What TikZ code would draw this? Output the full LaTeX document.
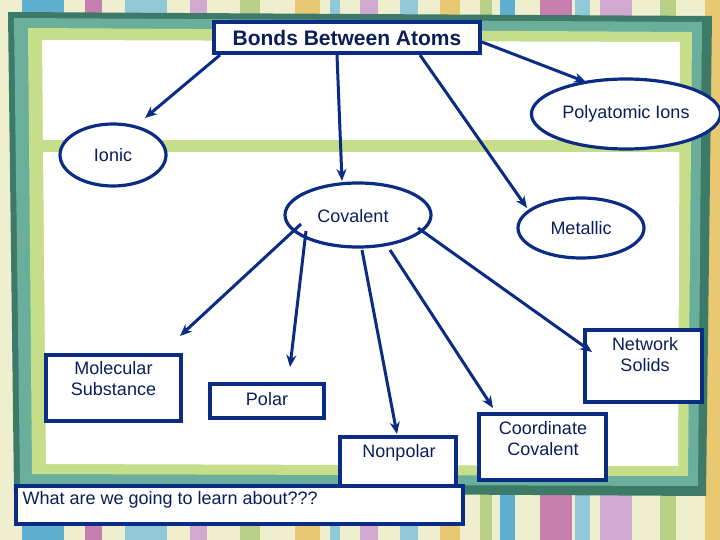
\documentclass[tikz,border=0pt]{standalone}
\usepackage{fontspec}
\setmainfont{Liberation Sans}
\usetikzlibrary{arrows.meta,shapes.geometric}
\definecolor{nav}{HTML}{0B2C84}
\definecolor{txt}{HTML}{0A1E5A}
\definecolor{cream}{HTML}{EFEFCF}
\definecolor{dteal}{HTML}{3E7A68}
\definecolor{teal}{HTML}{6AAE9C}
\definecolor{lgreen}{HTML}{C6DE8A}
\begin{document}
\begin{tikzpicture}[x=1pt,y=-1pt,
  fnt/.style={font=\fontsize{18}{21}\selectfont},
  bx/.style={draw=nav,line width=3.2pt,fill=white,text=txt,fnt},
  el/.style={ellipse,draw=nav,line width=3.2pt,fill=white,text=txt,fnt},
  lab/.style={text=txt,fnt,align=center},
  ar/.style={draw=nav,line width=3pt,-{Stealth[length=12pt,width=10pt]}}]
\useasboundingbox (0,0) rectangle (720,540);
\fill[cream] (0,0) rectangle (720,540);
% stripes
\foreach \x/\w/\c in {22/42/5FB0D0,85/17/C77FB0,125/42/90C8D8,190/17/D0A8D0,240/20/B8D088,295/25/E8C870,330/10/90C8D8,360/18/D0A8D0,400/18/90C8D8,440/20/E8C870,480/12/B8D088,500/15/5FB0D0,540/32/C77FB0,575/15/90C8D8,600/32/D0A8D0,660/16/B8D088,705/15/E8C870}
  {\definecolor{stc}{HTML}{\c}\fill[stc] (\x,0) rectangle ++(\w,540);}
% frame
\fill[dteal] (8,12) -- (712,16) -- (706,496) -- (14,492) -- cycle;
\fill[teal] (14,18) -- (702,22) -- (698,486) -- (20,484) -- cycle;
\fill[lgreen] (28,28) -- (692,32) -- (688,476) -- (32,474) -- cycle;
\fill[white] (42,40) -- (680,42) -- (678,466) -- (46,464) -- cycle;
\fill[lgreen] (42,140) rectangle (680,152);
% nodes
\node[bx,font=\bfseries\fontsize{21}{24}\selectfont,minimum width=266pt,minimum height=31pt,inner sep=0pt] (b) at (347,37.5) {Bonds Between Atoms};
\node[el,minimum width=184pt,minimum height=70pt] (p) at (626,114) {Polyatomic Ions};
\node[el,minimum width=106pt,minimum height=62pt] (i) at (113,155) {Ionic};
\node[el,minimum width=146pt,minimum height=64pt] (c) at (358,215) {};
\node[lab] at (353,216) {Covalent};
\node[el,minimum width=126pt,minimum height=60pt] (m) at (581,228) {Metallic};
\node[bx,minimum width=135pt,minimum height=66pt] (ms) at (113.5,388) {};
\node[lab] at (113.5,379) {Molecular\\Substance};
\node[bx,minimum width=117pt,minimum height=72pt] (ns) at (643.5,366) {};
\node[lab] at (645,355) {Network\\Solids};
\node[bx,minimum width=114pt,minimum height=34pt] (po) at (267,401) {};
\node[lab] at (267,399) {Polar};
\node[bx,minimum width=116pt,minimum height=68pt] (np) at (398,471) {};
\node[lab] at (399,453) {Nonpolar};
\node[bx,minimum width=127pt,minimum height=66pt] (cc) at (542.5,447) {};
\node[lab] at (543,439) {Coordinate\\Covalent};
\node[bx,minimum width=447pt,minimum height=38pt] (w) at (239.5,505) {};
\node[lab,anchor=west] at (19,500) {What are we going to learn about???};
% arrows
\coordinate (b1) at (220,55); \coordinate (b2) at (337,55); \coordinate (b3) at (420,55); \coordinate (b4) at (482,42);
\draw[ar] (b1) -- (145,118);
\draw[ar] (b2) -- (342,181);
\draw[ar] (b3) -- (527,208);
\draw[ar] (b4) -- (586,82);
\coordinate (c1) at (301,224); \coordinate (c2) at (306,231); \coordinate (c3) at (362,250); \coordinate (c4) at (390,250); \coordinate (c5) at (418,228);
\draw[ar] (c1) -- (180,336);
\draw[ar] (c2) -- (290,367);
\draw[ar] (c3) -- (397,434);
\draw[ar] (c4) -- (493,408);
\draw[ar] (c5) -- (592,352);
\end{tikzpicture}
\end{document}
